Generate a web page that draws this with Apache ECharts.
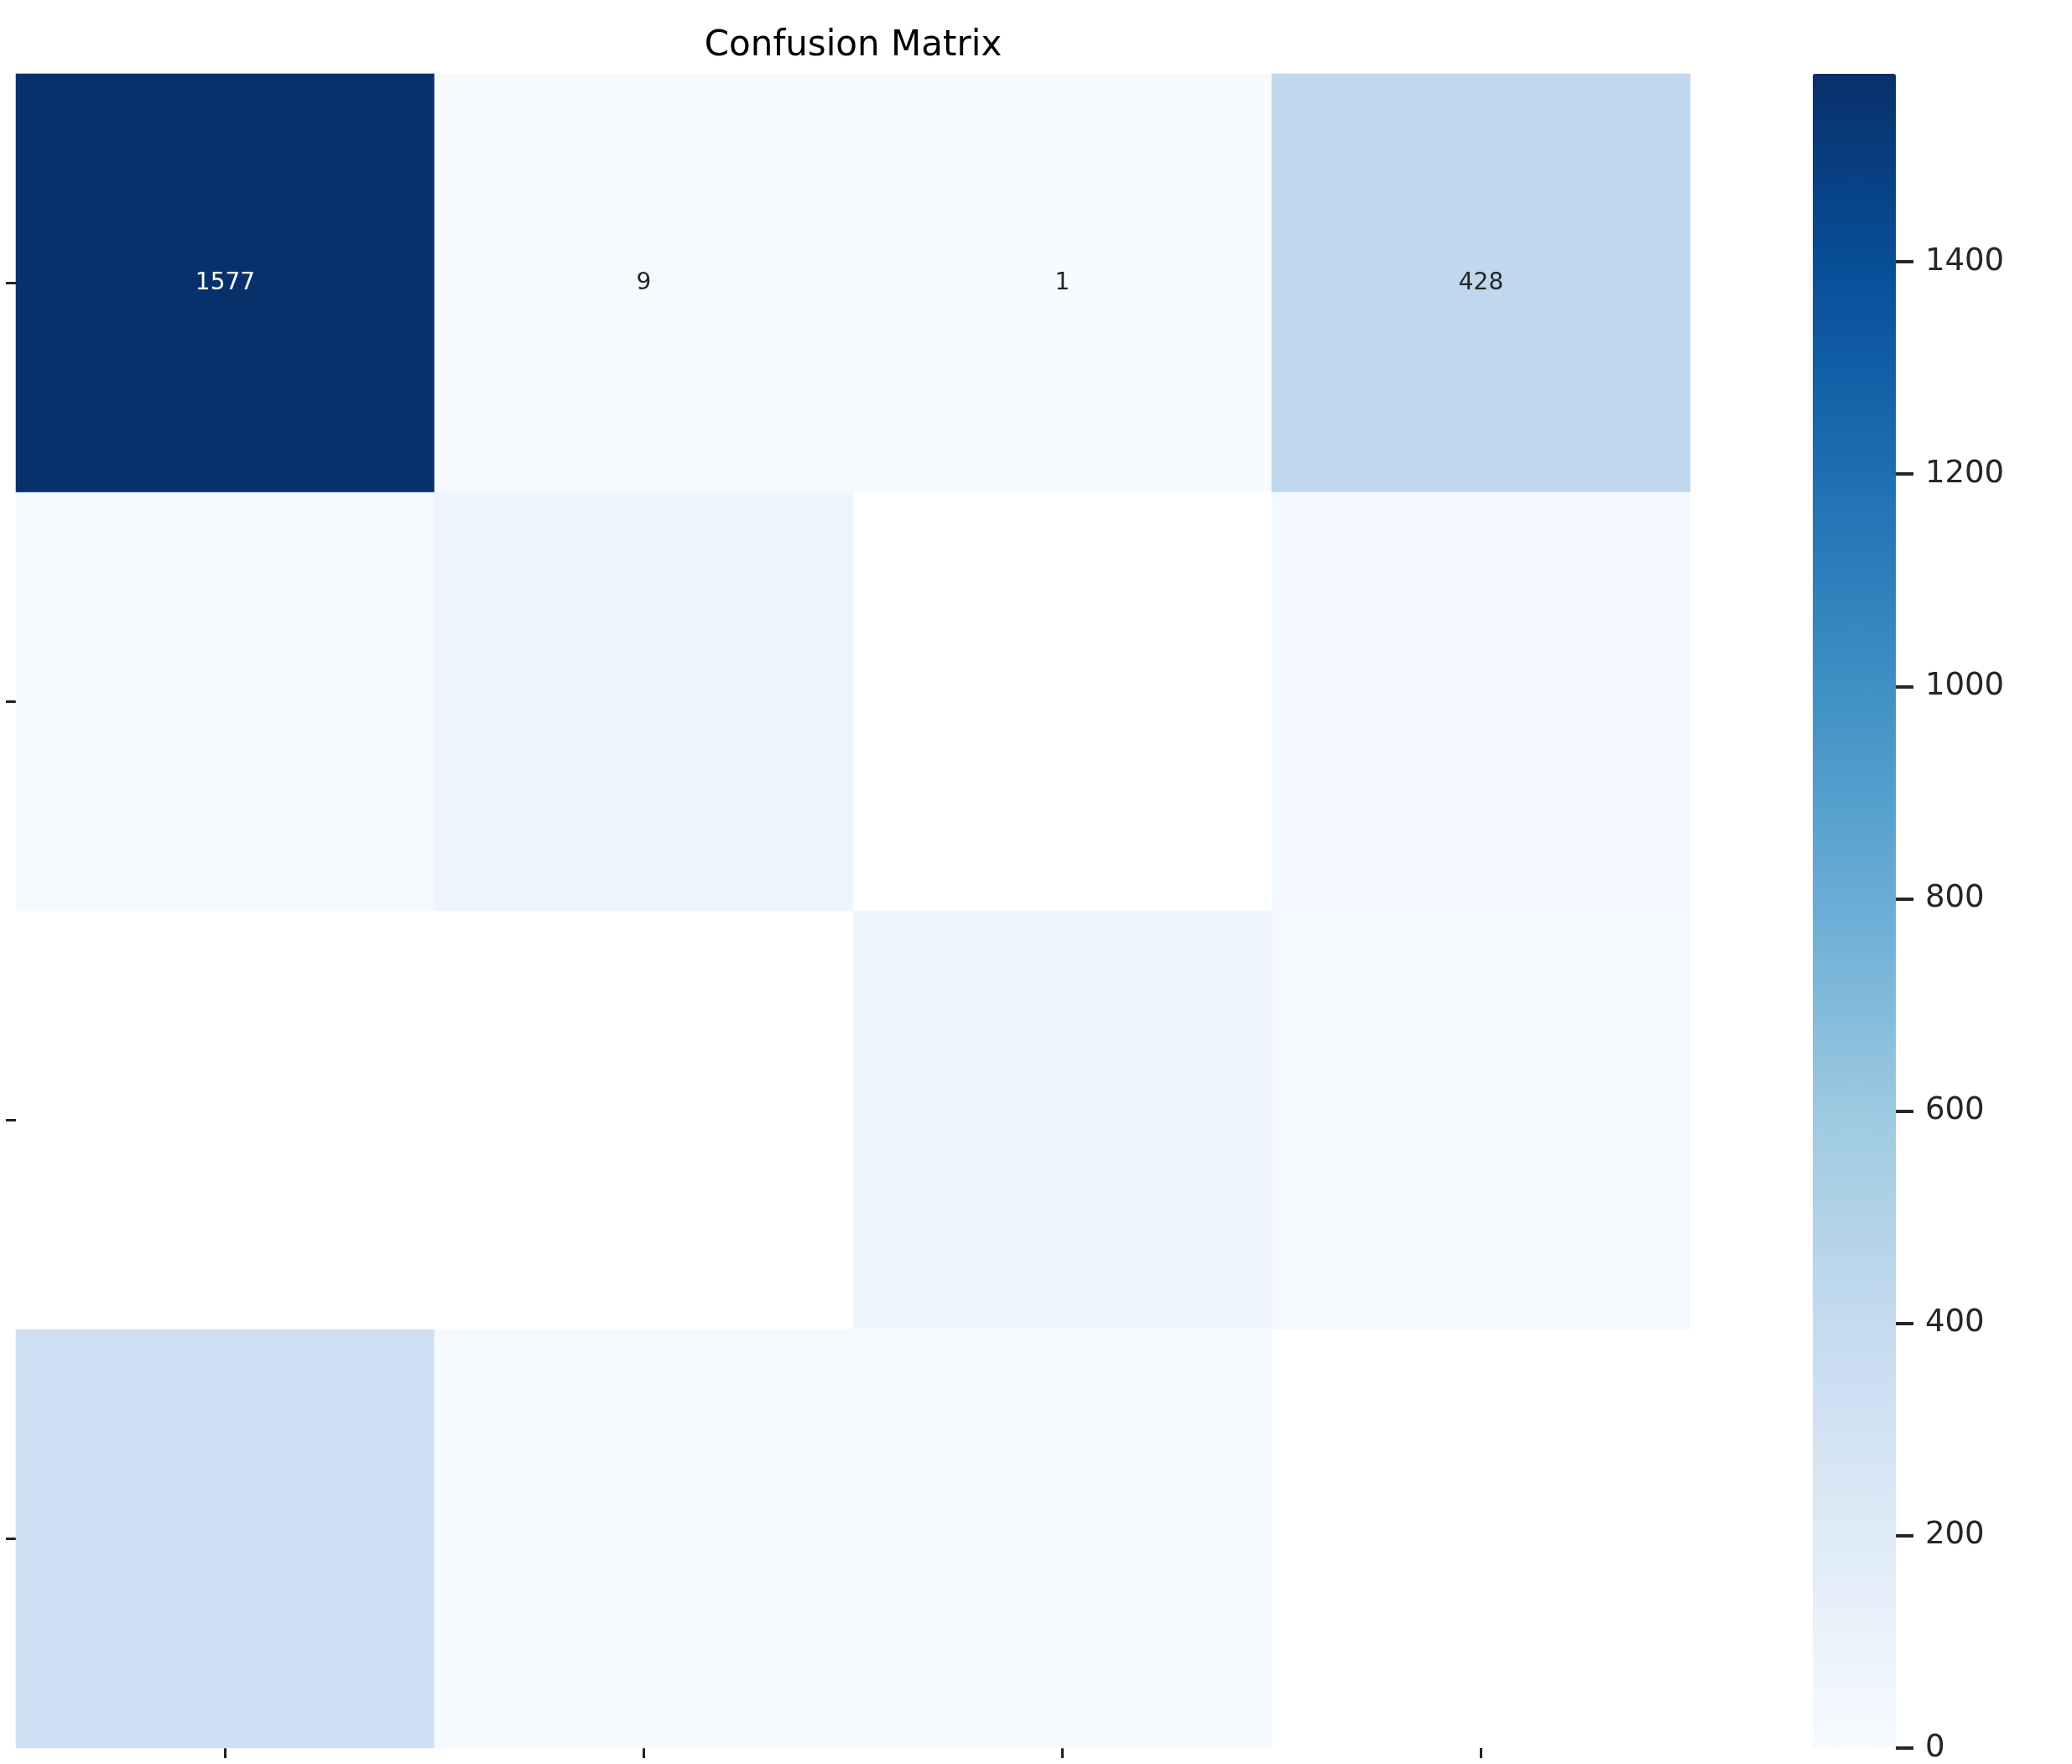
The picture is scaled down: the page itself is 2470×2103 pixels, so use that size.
<!DOCTYPE html>
<html>
<head>
<meta charset="utf-8">
<script src="https://cdn.jsdelivr.net/npm/echarts@6/dist/echarts.min.js"></script>
<style>
html,body{margin:0;padding:0;background:#fff;}
#chart{width:2470px;height:2103px;}
</style>
</head>
<body>
<div id="chart"></div>
<script>
// Data
const titleText = 'Confusion Matrix';
const predCategories = ['0', '1', '2', '3'];
const trueCategories = ['0', '1', '2', '3'];
// null = masked (blank white) cell
const row0 = [1577, 9, 1, 428];
const row1 = [22, 70, null, 30];
const row2 = [null, null, 60, 20];
const row3 = [340, 18, 18, null];
const matrix = [row0, row1, row2, row3];
const annotatedRows = [0];
const colorbarTicks = [0, 200, 400, 600, 800, 1000, 1200, 1400];
const vMin = 0;
const vMax = 1577;
const bluesColors = ['#f7fbff','#deebf7','#c6dbef','#9ecae1','#6baed6','#4292c6','#2171b5','#08519c','#08306b'];

const cells = [];
matrix.forEach((row, r) => {
  row.forEach((v, c) => {
    if (v === null) return;
    const show = annotatedRows.indexOf(r) >= 0;
    cells.push({
      value: [c, r, v],
      label: {
        show: show,
        color: (v - vMin) / (vMax - vMin) > 0.6 ? '#ffffff' : '#262626'
      }
    });
  });
});

const FONT = 'DejaVu Sans';
const chart = echarts.init(document.getElementById('chart'), null, {renderer: 'canvas'});
chart.setOption({
  backgroundColor: '#ffffff',
  animation: false,
  title: {
    text: titleText,
    left: 1017,
    top: 34,
    textAlign: 'center',
    padding: 0,
    textStyle: {fontFamily: FONT, fontSize: 42, fontWeight: 'normal', color: '#000000'}
  },
  grid: [
    {left: 19, top: 88, width: 1996, height: 1996, containLabel: false, show: false},
    {left: 2161, top: 88, width: 99, height: 1996, containLabel: false, show: false}
  ],
  xAxis: [
    {
      type: 'category', gridIndex: 0, data: predCategories, position: 'bottom',
      axisLine: {show: false, onZero: false},
      axisTick: {show: true, alignWithLabel: true, length: 12, lineStyle: {color: '#222222', width: 3}},
      axisLabel: {show: false},
      splitLine: {show: false}
    },
    {
      type: 'category', gridIndex: 1, data: ['cb'], show: false,
      axisLine: {onZero: false}
    }
  ],
  yAxis: [
    {
      type: 'category', gridIndex: 0, data: trueCategories, inverse: true, position: 'left',
      axisLine: {show: false, onZero: false},
      axisTick: {show: true, alignWithLabel: true, length: 12, lineStyle: {color: '#222222', width: 3}},
      axisLabel: {show: false},
      splitLine: {show: false}
    },
    {
      type: 'value', gridIndex: 1, min: vMin, max: vMax, position: 'right',
      axisLine: {show: false, onZero: false},
      splitLine: {show: false},
      axisTick: {show: true, length: 21, customValues: colorbarTicks, lineStyle: {color: '#262626', width: 4}},
      axisLabel: {show: true, customValues: colorbarTicks, margin: 35, fontFamily: FONT, fontSize: 37, color: '#262626',
                  formatter: v => String(v)},
      z: 10
    }
  ],
  visualMap: {
    type: 'continuous',
    min: vMin,
    max: vMax,
    seriesIndex: 0,
    orient: 'vertical',
    left: 2161,
    top: 88,
    padding: 0,
    itemWidth: 99,
    itemHeight: 1996,
    calculable: false,
    hoverLink: false,
    showLabel: false,
    text: null,
    inRange: {color: bluesColors}
  },
  series: [{
    type: 'heatmap',
    xAxisIndex: 0,
    yAxisIndex: 0,
    data: cells,
    label: {show: false, fontFamily: FONT, fontSize: 28, formatter: p => String(p.value[2])},
    itemStyle: {borderWidth: 0},
    emphasis: {disabled: true}
  }]
});
</script>
</body>
</html>
